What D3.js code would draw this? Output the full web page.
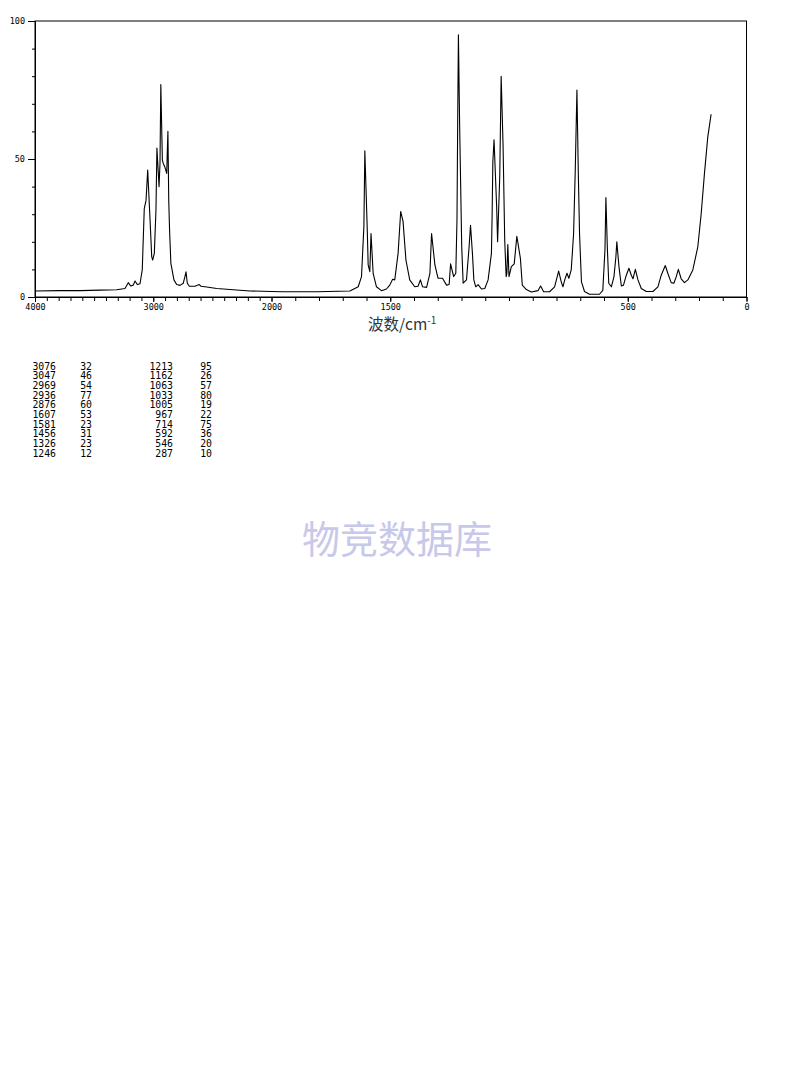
<!DOCTYPE html>
<html><head><meta charset="utf-8">
<script src="https://cdn.jsdelivr.net/npm/d3@7"></script>
<style>body{margin:0;background:#fff;}svg{display:block;}</style>
</head><body>
<svg id="c" width="794" height="1077"></svg>
<script>
// Spectrum (wavenumber cm-1, relative intensity)
const wavenumbers = [4000,3789,3619,3450,3309,3239,3211,3191,3169,3154,3135,3112,3093,3076,3061,3047,3027,3013,3005,2991,2977,2969,2951,2943,2936,2923,2915,2901,2886,2881,2876,2869,2862,2851,2825,2802,2774,2746,2732,2723,2712,2695,2647,2611,2596,2548,2463,2182,2000,1950,1810,1670,1635,1621,1611,1607,1597,1593,1586,1581,1572,1558,1537,1516,1502,1490,1481,1467,1456,1446,1434,1418,1397,1383,1373,1364,1347,1333,1326,1312,1299,1280,1263,1252,1246,1233,1224,1219,1216,1213,1208,1199,1193,1179,1168,1162,1154,1148,1140,1130,1116,1102,1088,1074,1071,1068,1063,1052,1048,1039,1033,1025,1018,1012,1009,1005,1000,990,978,967,952,944,927,906,878,867,854,829,808,791,780,773,765,756,748,738,728,721,714,708,703,695,682,661,619,605,596,592,586,580,569,558,550,546,537,527,518,506,495,485,478,468,457,443,422,394,373,359,342,331,317,306,296,287,275,261,247,226,205,191,177,163,149];
const intensities = [2.2,2.3,2.3,2.5,2.6,3.1,5.2,4,4.3,5.8,4.5,4.8,9.8,32,35,46,27.9,14.6,13.4,15.8,31.5,54,40,48.4,77,49.6,48.4,47,44.8,53,60,35,24.3,12.2,6.2,4.5,4.2,5,7.4,9.1,5,3.9,3.9,4.5,3.9,3.6,3.1,2.2,2.0,1.9,1.9,2.2,3.7,7.4,25.5,53,25,11.6,9.2,23,8.6,3.7,2.3,2.9,4.3,6.4,6.2,15.8,31,27.3,13.4,6.2,3.7,3.9,6.2,3.7,3.5,8.6,23,11.6,6.8,6.8,4.3,4.5,12,7.4,8.6,27.9,64,95,63,18,5,6.2,18.2,26,15.8,6.2,3.7,4.5,2.9,3.1,6.2,15.8,30,49,57,32.7,20,43.6,80,55,20.6,7.4,8.6,19,7.4,11,12,22,14,4.3,2.7,1.8,2.3,4,1.9,1.9,3.7,9.4,5.5,3.7,6.3,8.6,6.8,9.8,23,46,75,44,23,5.5,2,1,1,2.4,17,36,18,5,3.7,7.4,14.5,20,11,4,4.3,7.9,10.4,7.9,6.6,10,6.2,3.1,2,2,3.7,7.9,11.4,8.5,5.2,5,7.3,10,6.6,5.2,6.2,9.8,18.2,30,44.8,58,66.2];

// Peak table
const peakWnA = [3076,3047,2969,2936,2876,1607,1581,1456,1326,1246];
const peakIntA = [32,46,54,77,60,53,23,31,23,12];
const peakWnB = [1213,1162,1063,1033,1005,967,714,592,546,287];
const peakIntB = [95,26,57,80,19,22,75,36,20,10];

// Axis ticks
const xLabelTicks = [4000,3000,2000,1500,500,0];
const xMinorTicks = d3.range(0,4001,100);
const yLabelTicks = [0,50,100];
const yMinorTicks = d3.range(0,101,10);

const svg = d3.select("#c");
const x = d3.scaleLinear().domain([4000,2000,0]).range([35,271.5,746.5]);
const y = d3.scaleLinear().domain([0,100]).range([297,21]);
const monoFont = "'DejaVu Sans Mono', monospace";

// frame
svg.append("rect").attr("x",35).attr("y",21).attr("width",711.5).attr("height",276)
  .attr("fill","none").attr("stroke","#000").attr("stroke-width",1);

// x axis
const gx = svg.append("g").attr("transform","translate(0,297)");
gx.call(d3.axisBottom(x).tickValues(xMinorTicks).tickFormat("").tickSize(4).tickSizeOuter(0));
const gx2 = svg.append("g").attr("transform","translate(0,297)");
gx2.call(d3.axisBottom(x).tickValues(xLabelTicks).tickFormat(d3.format("d")).tickSize(5).tickSizeOuter(0).tickPadding(2));
[gx,gx2].forEach(g=>{g.selectAll("path").attr("stroke","#000");g.selectAll("line").attr("stroke","#000");});
gx2.selectAll("text").attr("font-family",monoFont).attr("font-size","8.5px").attr("fill","#000");

// y axis
const gy = svg.append("g").attr("transform","translate(35,0)");
gy.call(d3.axisLeft(y).tickValues(yMinorTicks).tickFormat("").tickSize(3).tickSizeOuter(0));
const gy2 = svg.append("g").attr("transform","translate(35,0)");
gy2.call(d3.axisLeft(y).tickValues(yLabelTicks).tickFormat(d3.format("d")).tickSize(7).tickSizeOuter(0).tickPadding(3));
[gy,gy2].forEach(g=>{g.selectAll("path").attr("stroke","#000");g.selectAll("line").attr("stroke","#000");});
gy2.selectAll("text").attr("font-family",monoFont).attr("font-size","8.5px").attr("fill","#000");

// spectrum
const pts = wavenumbers.map((w,i)=>[w,intensities[i]]);
svg.append("path").datum(pts)
  .attr("d", d3.line().x(d=>x(d[0])).y(d=>y(d[1])))
  .attr("fill","none").attr("stroke","#000").attr("stroke-width",1.1).attr("stroke-linejoin","round");

// axis title
const t = svg.append("text").attr("x",368).attr("y",330)
  .attr("font-family","'Noto Sans CJK SC', sans-serif").attr("font-size","15.5px").attr("fill","#333");
t.append("tspan").text("波数/cm");
t.append("tspan").attr("font-size","10px").attr("dy","-6").text("-1");

// peak table
const rowY = d3.scaleLinear().domain([0,9]).range([369.5,456.5]);
const tbl = svg.append("g").attr("font-family",monoFont).attr("font-size","9.8px").attr("fill","#000").attr("text-anchor","end");
const cols = [[peakWnA,56],[peakIntA,92],[peakWnB,173],[peakIntB,212]];
cols.forEach(([arr,cx])=>{
  tbl.selectAll(null).data(arr).enter().append("text")
    .attr("x",cx).attr("y",(d,i)=>rowY(i)).text(d=>d);
});

// watermark
svg.append("text").attr("x",397).attr("y",553).attr("text-anchor","middle")
  .attr("font-family","'Noto Sans CJK SC', sans-serif").attr("font-size","38px")
  .attr("fill","#c8c8ea").text("物竞数据库");
</script>
</body></html>
